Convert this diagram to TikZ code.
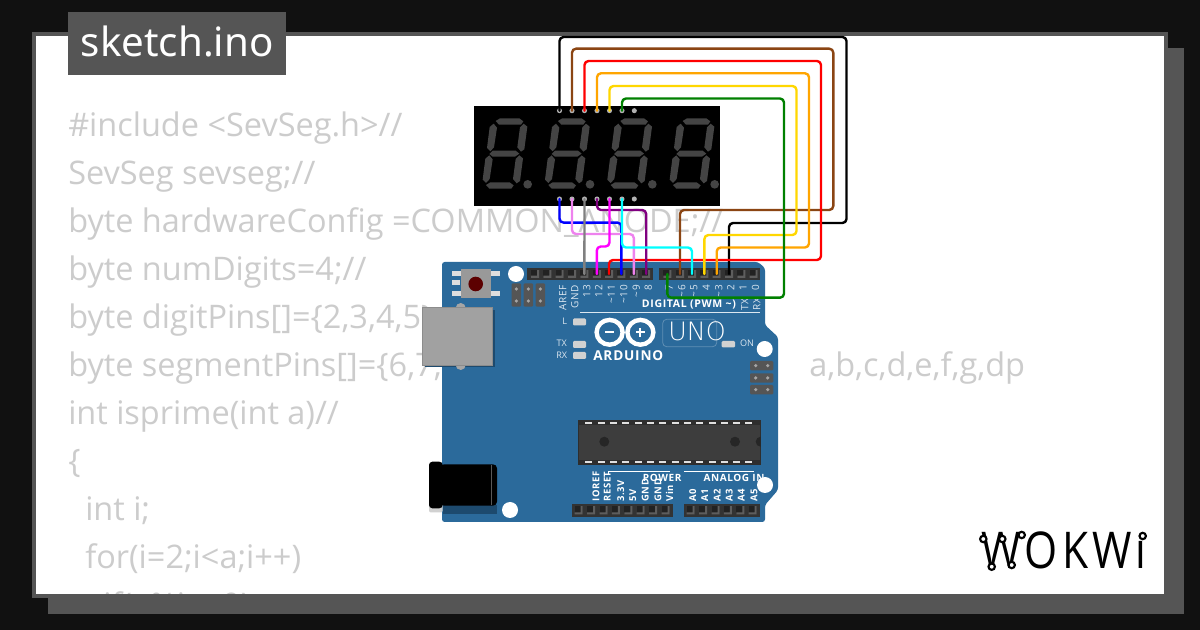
\documentclass[tikz,border=0pt]{standalone}
\usepackage{fontspec}
\setmainfont{Open Sans}
\newfontfamily\tabfont{Noto Sans}
\newfontfamily\lsfont[LetterSpace=6]{Open Sans}
\newfontfamily\unofont{DejaVu Sans ExtraLight}
\definecolor{bgdark}{HTML}{111111}
\definecolor{frame}{HTML}{555555}
\definecolor{codegray}{HTML}{CCCCCC}
\definecolor{board}{HTML}{2B6A9B}
\definecolor{boardshade}{HTML}{1D4A6E}
\definecolor{boardtxt}{HTML}{DCE7F0}
\definecolor{seg}{HTML}{444444}
\definecolor{hdrbg}{HTML}{333333}
\definecolor{hdrpin}{HTML}{222222}
\definecolor{hdredge}{HTML}{5E5E5E}
\definecolor{wbrown}{HTML}{8B4513}
\definecolor{worange}{HTML}{FFA500}
\definecolor{wgold}{HTML}{FFD700}
\definecolor{wgreen}{HTML}{008000}
\definecolor{wviolet}{HTML}{EE82EE}
\definecolor{wpurple}{HTML}{800080}
\definecolor{wcyan}{HTML}{00FFFF}
\definecolor{wmagenta}{HTML}{FF00FF}
\definecolor{wgray}{HTML}{808080}
\definecolor{wred}{HTML}{FF0000}
\definecolor{wblue}{HTML}{0000FF}
\tikzset{
  codeline/.style={anchor=base west,inner sep=0,text=codegray,font=\fontsize{24.35}{24}\selectfont},
  wire/.style={line width=1.8pt,rounded corners=3pt,line cap=round,line join=round},
  dpin/.style={circle,fill=black!30,minimum size=3.8pt,inner sep=0},
  vlab/.style={rotate=90,anchor=east,inner sep=0,text=boardtxt,text height=5pt,text depth=0pt,font=\fontsize{7.5}{8}\lsfont},
  blab/.style={rotate=90,anchor=west,inner sep=0,text=white,text height=5pt,text depth=0pt,font=\fontsize{7.1}{8}\lsfont\bfseries},
  btitle/.style={anchor=west,inner sep=0,text=white,font=\fontsize{7.5}{8}\lsfont\bfseries},
  smalll/.style={anchor=center,inner sep=0,text=boardtxt,font=\fontsize{6.8}{7}\selectfont},
  ledbox/.style={fill=black!18,rounded corners=.8pt},
}
\newcommand\pinheader[5]{% x0 y0 x1 y1, pin centres list
  \fill[hdrbg] (#1,#2) rectangle (#3,#4);
  \foreach \px in {#5}{
    \fill[hdrpin] (\px-4,#2+2.2) rectangle (\px+4,#4-2.2);
    \fill[hdredge] (\px-4,#4-2.2) -- (\px+4,#4-2.2) -- (\px+4,#2+2.2) -- (\px+2,#2+2.2) -- (\px+2,#4-4.4) -- (\px-4,#4-4.4) -- cycle;
  }}
\newcommand\twopin[3]{% x0 y0 horizontal=0
  \fill[frame,rounded corners=.8pt] (#1,#2) rectangle ++(9.3,23.3);
  \fill[black!35] (#1+4.65,#2+5.7) circle[radius=1.8];
  \fill[black!35] (#1+4.65,#2+17.7) circle[radius=1.8];}
\newcommand\hpin[1]{% y0
  \fill[frame,rounded corners=.8pt] (750,#1) rectangle ++(23.3,9.3);
  \fill[black!35] (755.7,#1+4.65) circle[radius=1.8];
  \fill[black!35] (767.7,#1+4.65) circle[radius=1.8];}
\newcommand\digit{%
  \fill[seg] (120,265)--(178,265)--(190,274)--(183,284)--(117,284)--(107,273)--cycle;
  \fill[seg] (191,281)--(202,290)--(193,358)--(183,365)--(172,352)--(180,292)--cycle;
  \fill[seg] (101,281)--(111,293)--(102,352)--(91,364)--(81,354)--(89,291)--cycle;
  \fill[seg] (98,362)--(167,362)--(178,371)--(165,380)--(98,380)--(88,372)--cycle;
  \fill[seg] (178,376)--(189,385)--(180,453)--(170,460)--(159,447)--(167,387)--cycle;
  \fill[seg] (88,376)--(98,388)--(89,447)--(78,459)--(68,449)--(76,386)--cycle;
  \fill[seg] (91,457)--(149,457)--(161,466)--(154,476)--(88,476)--(78,465)--cycle;
  \fill[seg] (203,463) circle[radius=13];}
\begin{document}
\begin{tikzpicture}[x=.75pt,y=-.75pt]
\useasboundingbox (0,0) rectangle (1200,630);
\fill[bgdark] (0,0) rectangle (1200,630);
\fill[frame] (48,48) rectangle (1184,614);
\fill[frame] (32,32) rectangle (1168,598);
\fill[white] (36,36) rectangle (1164,594);
% code
\begin{scope}
\clip (36,36) rectangle (1164,594);
\node[codeline] (c1) at (68,136.5) {\#include <SevSeg.h>//};
\node[codeline] (c2) at (68,184.5) {SevSeg sevseg;//};
\node[codeline] (c3) at (68,232.5) {byte hardwareConfig =COMMON\_ANODE;//};
\node[codeline] (c4) at (68,280.5) {byte numDigits=4;//};
\node[codeline] (c5) at (68,328.5) {byte digitPins[]=\{2,3,4,5\};//};
\node[codeline] (c6) at (68,376.5) {byte segmentPins[]=\{6,7,};
\node[codeline] (c6b) at (809,376.5) {a,b,c,d,e,f,g,dp};
\node[codeline] (c7) at (68,424.5) {int isprime(int a)//};
\node[codeline] (c8) at (68,472.5) {\{};
\node[codeline] (c9) at (85,520.5) {int i;};
\node[codeline] (c10) at (85,568.5) {for(i=2;i<a;i++)};
\node[codeline] (c11) at (103,616.5) {if(a\%i==0)};
\end{scope}
% tab
\fill[frame] (68,12) rectangle (286,74.7);
\node[anchor=base west,inner sep=0,text=white,font=\fontsize{30.2}{30}\tabfont] (tab) at (80.5,57) {sketch.ino};
% logo
\node[anchor=base west,inner sep=0,text=black,font=\fontsize{38}{38}\selectfont] (wokwi) at (981,569) {\scalebox{.84}[1]{W\kern3pt O\kern5pt K\kern3pt W\kern3pt ı}};
\foreach \cx/\cy in {983.3/539,1002.3/539,1021.7/535,991.7/566.7,1011.7/565,1142.7/536}{
  \filldraw[fill=white,draw=black,line width=1.6pt] (\cx,\cy) circle[radius=3.2];}
% display
\fill[black] (474,106) rectangle (720,206);
\begin{scope}[shift={(460,30)},x=.25pt,y=-.25pt]
\foreach \k in {0,1,2,3}{\begin{scope}[shift={(187*\k,0)}]\digit\end{scope}}
\end{scope}
\foreach \n/\x in {1/559.5,2/572,3/584.5,4/597,5/609.5,6/622,7/634.3}{
  \node[dpin] (a\n) at (\x,110.7) {};
  \node[dpin] (b\n) at (\x,199) {};}
% board
\fill[board,rounded corners=2pt] (442,262) -- (758,262) -- (765,268) -- (765,325) -- (778,337) -- (778,490) -- (765,505) -- (765,522) -- (442,522) -- cycle;
\foreach \cx/\cy in {516/274,764.7/349,765/485,510/510}{\fill[white] (\cx,\cy) circle[radius=8];}
% button
\fill[black!13] (452.3,271) rectangle (500,275.7);
\fill[black!13] (452.3,280) rectangle (460,285);
\fill[black!13] (452.3,291) rectangle (500,295.7);
\fill[black!40] (460.7,269) rectangle (490.7,297.7);
\fill[black!40!red!60!black] (475.7,284) circle[radius=7.3];
% small headers
\twopin{511.7}{283.3}{0}\twopin{523.7}{283.3}{0}\twopin{535.7}{283.3}{0}
\hpin{361}\hpin{373.3}\hpin{385}
% usb
\fill[boardshade] (425,310) rectangle (494.5,367.5);
\fill[black!35] (460.7,308) circle[radius=5];
\fill[black!35] (460.7,365) circle[radius=5];
\filldraw[fill=black!37,draw=black!45,line width=.6pt] (422.3,307.7) rectangle (492.7,365.7);
% top headers
\pinheader{527}{268}{653}{280}{535,547.4,559.5,572,584.4,596.8,609,621.4,633.8,646.2}
\pinheader{659}{268}{760}{280}{667.3,680,692,704.4,716.7,729,741.3,753.7}
% bottom headers
\pinheader{572.3}{504}{673.3}{516.7}{578.7,591.1,603.5,615.9,628.3,640.7,653.1,665.5}
\pinheader{684}{504}{760}{516.7}{690.7,703.1,715.5,727.9,740.3,752.7}
% labels
\foreach \x/\t [count=\n] in {561/AREF,573/GND,585/13,597/12,609.5/\textasciitilde 11,622/\textasciitilde 10,634.5/\textasciitilde 9,646.5/8,667.5/7,680/\textasciitilde 6,692/\textasciitilde 5,704.5/4,717/\textasciitilde 3,729/2,741.3/1,753.7/0}{
  \node[vlab] (dl\n) at (\x+2,285) {\t};}
\node[vlab,anchor=west] (tx) at (745,311) {TX};
\node[vlab,anchor=west] (rx) at (757,311) {RX};
\node[anchor=west,inner sep=0,text=white,font=\fontsize{7.9}{8}\lsfont\bfseries] (digital) at (641.7,304.3) {DIGITAL (PWM \textasciitilde)};
\draw[boardtxt,line width=.6pt] (580,312.7) -- (760,312.7);
\node[smalll] (ll) at (564.7,321.7) {L};
\node[smalll] (ltx) at (561.7,343.7) {TX};
\node[smalll] (lrx) at (561.7,355) {RX};
\node[smalll] (lon) at (747,343.7) {ON};
\foreach \y in {318.5,341,352}{\fill[ledbox] (573,\y) rectangle ++(13,7);}
\fill[ledbox] (721.7,341) rectangle ++(13.3,6.4);
% arduino logo
\draw[white,line width=3.3pt] (609.6,332.3) ellipse[x radius=13,y radius=12.4];
\draw[white,line width=3.3pt] (640.4,332.3) ellipse[x radius=13,y radius=12.4];
\fill[white] (605,331.3) rectangle (614,333.5);
\fill[white] (635.5,331.3) rectangle (645,333.5);
\fill[white] (639.2,327.6) rectangle (641.4,337.2);
\node[anchor=west,inner sep=0,text=white,font=\fontsize{10.2}{11}\lsfont\bfseries] (ard) at (593,356) {ARDUINO};
\draw[board!75!white,line width=.6pt,rounded corners=3pt] (662.7,319.3) rectangle (716.7,346.7);
\node[anchor=west,inner sep=0,text=white,font=\fontsize{19}{20}\unofont] (uno) at (668,331) {UNO};
% MCU
\fill[black!82] (578.3,420) rectangle (760.7,465);
\fill[black!76] (579,425.5) rectangle (760,460);
\foreach \k in {0,...,13}{
  \fill[black!12] (588.7+\k*12.33-3.5,422.3) rectangle ++(7,2);
  \fill[black!12] (588.7+\k*12.33-3.5,460.7) rectangle ++(7,2);}
\fill[black!85] (604.3,441.7) circle[radius=5];
\fill[black!85] (735,441.7) circle[radius=5];
\begin{scope}\clip (750,430) rectangle (760.7,453);\fill[black!85] (760.7,441.7) circle[radius=5];\end{scope}
% bottom labels
\foreach \x/\t [count=\n] in {594/IOREF,605.3/RESET,618.7/3.3V,630.7/5V,643.3/GND,656/GND,667.7/Vin,690.7/A0,702.7/A1,715.3/A2,727.3/A3,739.3/A4,752/A5}{
  \node[blab] (pl\n) at (\x+2,501.7) {\t};}
\draw[white,line width=.6pt] (608,475) -- (608,471) -- (670,471);
\draw[white,line width=.6pt] (684,471) -- (754,471);
\node[btitle] (pow) at (642.7,478.3) {POWER};
\node[btitle] (ana) at (703.3,478.3) {ANALOG IN};
% jack
\fill[boardshade] (442.7,505) rectangle (497,514);
\fill[black!18,rounded corners=1.5pt] (429,464) rectangle (442.7,512.5);
\fill[black,rounded corners=2.5pt] (429,461.7) rectangle (442.7,508.3);
\fill[black,rounded corners=3pt] (440,464.3) rectangle (497,505.7);
\draw[black!65,line width=.4pt] (491.7,465) -- (491.7,505);
% pin coordinates
\foreach \n/\x in {13/584.4,12/596.8,11/609,10/621.4,9/633.8,8/646.2,7/667.3,6/680,5/692,4/704.4,3/716.7,2/729}{
  \coordinate (p\n) at (\x,274);}
% wires
\draw[wire,black] (a1.center) -- (a1.center |- 0,37) -- (846.5,37) -- (846.5,223) -- (p2 |- 0,223) -- (p2);
\draw[wire,wbrown] (a2.center) -- (a2.center |- 0,48.7) -- (833.3,48.7) -- (833.3,210) -- (p6 |- 0,210) -- (p6);
\draw[wire,wred] (a3.center) -- (a3.center |- 0,61) -- (821,61) -- (821,260) -- (p11 |- 0,260) -- (p11);
\draw[wire,worange] (a4.center) -- (a4.center |- 0,73.3) -- (809,73.3) -- (809,247.5) -- (p3 |- 0,247.5) -- (p3);
\draw[wire,wgold] (a5.center) -- (a5.center |- 0,86) -- (796.5,86) -- (796.5,235) -- (p4 |- 0,235) -- (p4);
\draw[wire,wgreen] (a6.center) -- (a6.center |- 0,98.5) -- (784,98.5) -- (784,297.7) -- (p7 |- 0,297.7) -- (p7);
\draw[wire,wblue] (b1.center) -- (b1.center |- 0,222.6) -- (p10 |- 0,222.6) -- (p10);
\draw[wire,wviolet] (b2.center) -- (b2.center |- 0,234) -- (p9 |- 0,234) -- (p9);
\draw[wire,wpurple] (b4.center) -- (b4.center |- 0,210) -- (p8 |- 0,210) -- (p8);
\draw[wire,wgray] (b3.center) -- (p13);
\draw[wire,wmagenta] (b5.center) -- (b5.center |- 0,246.5) -- (p12 |- 0,246.5) -- (p12);
\draw[wire,wcyan] (b6.center) -- (b6.center |- 0,247.5) -- (p5 |- 0,247.5) -- (p5);
\end{tikzpicture}
\end{document}
